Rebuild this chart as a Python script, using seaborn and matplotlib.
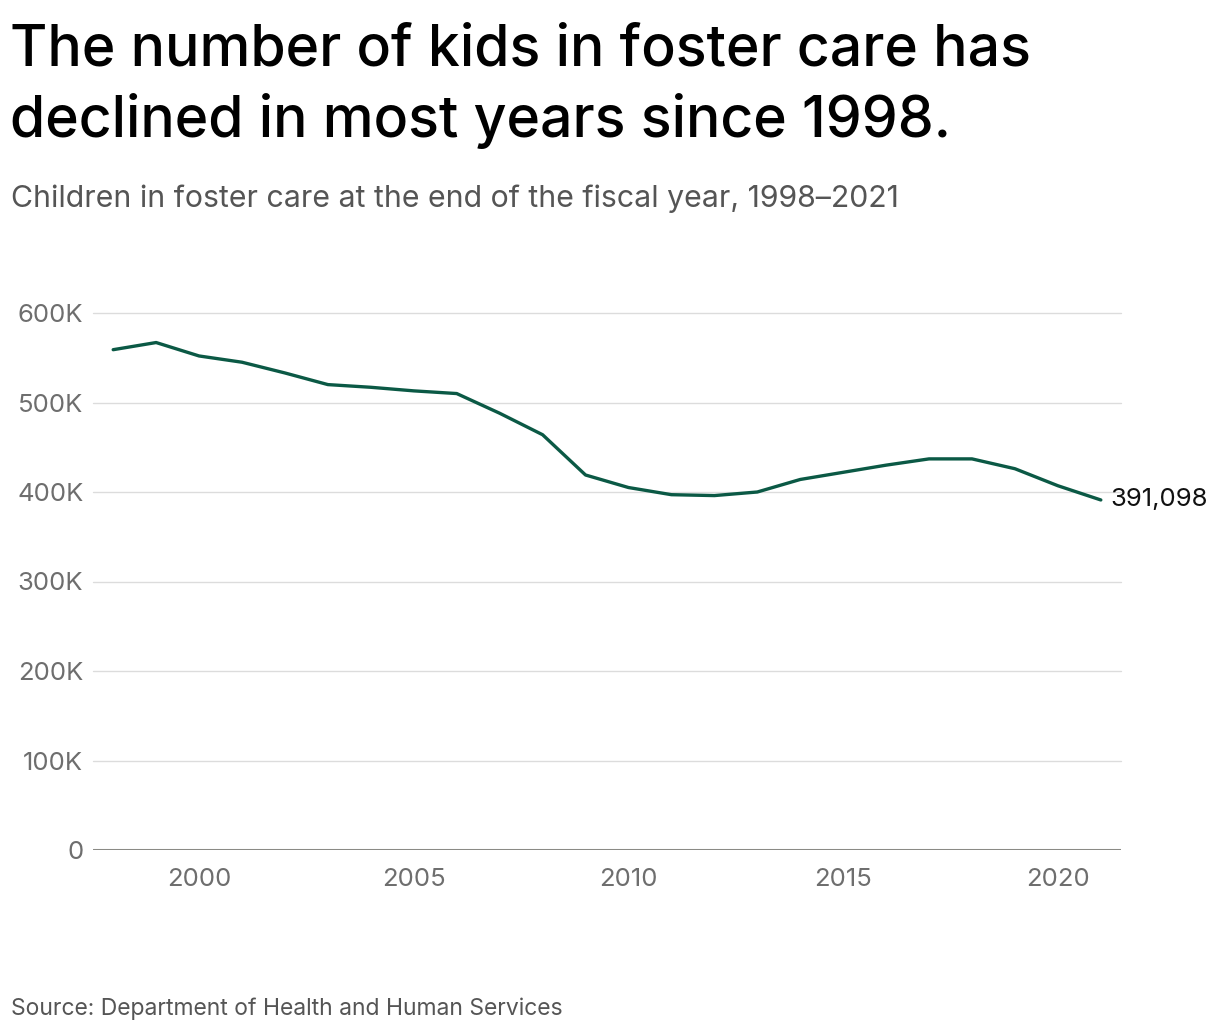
"""
Children in foster care at the end of the fiscal year, 1998-2021.
Recreated line chart with seaborn.
"""

import pandas as pd
import matplotlib.pyplot as plt
import seaborn as sns
from matplotlib.ticker import FuncFormatter

# Data
years = [1998, 1999, 2000, 2001, 2002, 2003, 2004, 2005, 2006, 2007, 2008, 2009,
         2010, 2011, 2012, 2013, 2014, 2015, 2016, 2017, 2018, 2019, 2020, 2021]
children = [559000, 567000, 552000, 545000, 533000, 520000, 517000, 513000,
            510000, 488000, 464000, 419000, 405000, 397000, 396000, 400000,
            414000, 422000, 430000, 437000, 437000, 426000, 407000, 391098]
y_ticks = [0, 100000, 200000, 300000, 400000, 500000, 600000]
x_ticks = [2000, 2005, 2010, 2015, 2020]

title_lines = ["The number of kids in foster care has",
               "declined in most years since 1998."]
subtitle = "Children in foster care at the end of the fiscal year, 1998\u20132021"
source = "Source: Department of Health and Human Services"

df = pd.DataFrame({'Year': years, 'Children': children})

sns.set_theme(style="white")
plt.rcParams['font.family'] = ['Inter', 'DejaVu Sans']

W, H = 1220, 1036
fig = plt.figure(figsize=(W / 100, H / 100), dpi=100)
ax = fig.add_axes([93 / W, 1 - 850 / H, (1121 - 93) / W, (850 - 313) / H])

sns.lineplot(data=df, x='Year', y='Children', ax=ax, color='#0b5945',
             linewidth=2.4, clip_on=False, zorder=3)

# Axes limits
ax.set_xlim(1997.53, 2021.47)
ax.set_ylim(0, 600000)

# Grid lines
for v in y_ticks[1:]:
    ax.axhline(v, color='#dcdcdc', linewidth=1, zorder=1, clip_on=False)
ax.axhline(0, color='#8a8a85', linewidth=2.2, zorder=2)

for side in ['top', 'right', 'left', 'bottom']:
    ax.spines[side].set_visible(False)

ax.set_yticks(y_ticks)
ax.yaxis.set_major_formatter(FuncFormatter(lambda v, p: '0' if v == 0 else f'{int(v / 1000)}K'))
ax.set_xticks(x_ticks)
ax.tick_params(axis='both', length=0, labelsize=18.5, colors='#6e6e6e')
ax.tick_params(axis='y', pad=7)
ax.tick_params(axis='x', pad=13)
ax.set_xlabel('')
ax.set_ylabel('')

# Last value label
ax.annotate(f'{children[-1]:,}', xy=(years[-1], children[-1]), xytext=(7, 0),
            textcoords='offset points', ha='left', va='center',
            fontsize=18.5, color='#111111', annotation_clip=False)

# Titles and source
fig.text(10 / W, 1 - 65 / H, title_lines[0], ha='left', va='baseline', fontsize=41.2,
         fontweight='medium', color='#000000')
fig.text(10 / W, 1 - 137 / H, title_lines[1], ha='left', va='baseline', fontsize=41.2,
         fontweight='medium', color='#000000')
fig.text(11 / W, 1 - 207 / H, subtitle, ha='left', va='baseline', fontsize=21.8,
         color='#555555')
fig.text(11 / W, 1 - 1015 / H, source, ha='left', va='baseline', fontsize=16.5,
         color='#555555')

plt.savefig('out.png', dpi=100)
